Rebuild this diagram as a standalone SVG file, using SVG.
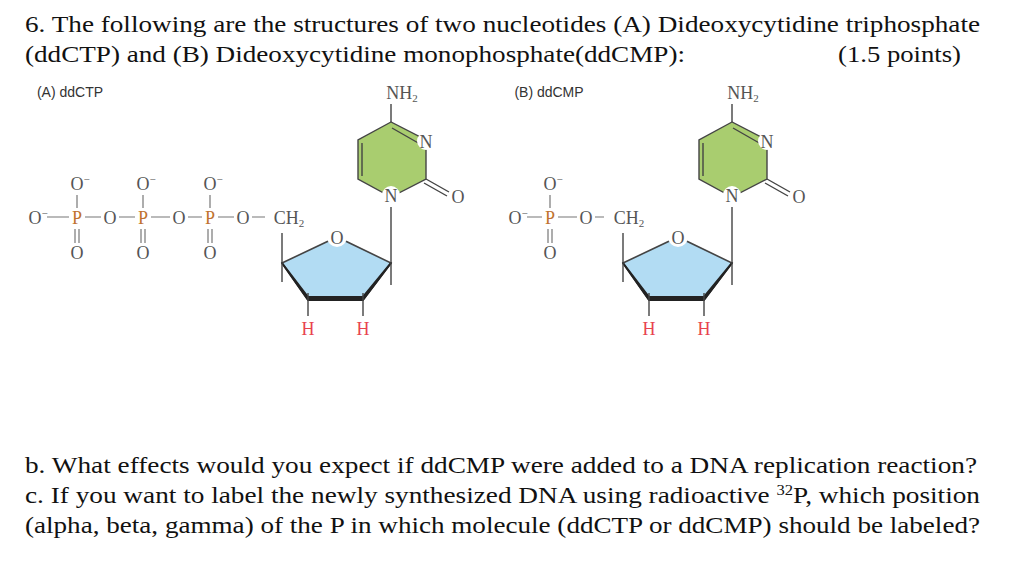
<svg xmlns="http://www.w3.org/2000/svg" width="1018" height="569" viewBox="0 0 1018 569">
<style>
.p{fill:#c0722f}
.h{fill:#e8434f}
.b{stroke:#444;stroke-width:1.4;fill:none}
.pb{stroke:#777;stroke-width:1.2;fill:none}
</style>
<rect width="1018" height="569" fill="#fff"/>
<g id="title" font-family="Liberation Serif, serif" font-size="23" fill="#111">
<text x="25" y="32" textLength="955" lengthAdjust="spacingAndGlyphs">6. The following are the structures of two nucleotides (A) Dideoxycytidine triphosphate</text>
<text x="25" y="62" textLength="660" lengthAdjust="spacingAndGlyphs">(ddCTP) and (B) Dideoxycytidine monophosphate(ddCMP):</text>
<text x="838" y="62" textLength="123" lengthAdjust="spacingAndGlyphs">(1.5 points)</text>
</g>
<g id="nodeA" font-family="Liberation Serif, serif" font-size="18" fill="#555" text-anchor="middle">
<text x="70" y="97" font-family="Liberation Sans, sans-serif" font-size="14" fill="#333">(A) ddCTP</text>
<g class="pb">
<path d="M47 217H69M85 217H101M119 217H135M151 217H170M188 217H202M218 217H234M252 217H265"/>
<path d="M77 195V208M75 229V243M79 229V243M143 195V208M141 229V243M145 229V243M210 195V208M208 229V243M212 229V243"/>
</g>
<text x="38" y="224">O<tspan font-size="11" dy="-7">−</tspan></text>
<text class="p" x="77" y="224">P</text>
<text x="110" y="224">O</text>
<text class="p" x="143" y="224">P</text>
<text x="179" y="224">O</text>
<text class="p" x="210" y="224">P</text>
<text x="243" y="224">O</text>
<text x="289" y="224">CH<tspan font-size="11" dy="3">2</tspan></text>
<text x="80" y="190">O<tspan font-size="11" dy="-7">−</tspan></text>
<text x="146" y="190">O<tspan font-size="11" dy="-7">−</tspan></text>
<text x="213" y="190">O<tspan font-size="11" dy="-7">−</tspan></text>
<text x="77" y="259">O</text>
<text x="143" y="259">O</text>
<text x="210" y="259">O</text>
<g id="nucA">
<polygon points="391,122 358,140 358,179 391,197 426,179 426,140" fill="#a9cd6f" stroke="#444" stroke-width="1.4"/>
<polygon points="282,263 337,237 391,263 363,300 308,300" fill="#b2dcf3" stroke="#444" stroke-width="1.6"/>
<path d="M282 263L308 300L363 300L391 263L363 297L308 297Z" fill="#222" stroke="#222" stroke-width="2" stroke-linejoin="round"/>
<path class="b" d="M362 143V176M392 128L420 144M426 179L449 192M424 183L447 196M391 122V104M391 207V285M282 233V282M308 293V316M363 293V316"/>
<circle cx="337" cy="237" r="10" fill="#fff"/>
<circle cx="426" cy="141" r="9" fill="#fff"/>
<circle cx="391" cy="195" r="9" fill="#fff"/>
<text x="337" y="244">O</text>
<text x="426" y="148">N</text>
<text x="391" y="202">N</text>
<text x="458" y="203">O</text>
<text x="402" y="99">NH<tspan font-size="11" dy="3">2</tspan></text>
<text class="h" x="308" y="335">H</text>
<text class="h" x="363" y="335">H</text>
</g>
</g>
<g id="nodeB" font-family="Liberation Serif, serif" font-size="18" fill="#555" text-anchor="middle">
<text x="549" y="97" font-family="Liberation Sans, sans-serif" font-size="14" fill="#333">(B) ddCMP</text>
<g class="pb">
<path d="M527 217H542M558 217H577M595 217H604M550 195V208M548 229V243M552 229V243"/>
</g>
<text x="518" y="224">O<tspan font-size="11" dy="-7">−</tspan></text>
<text class="p" x="550" y="224">P</text>
<text x="586" y="224">O</text>
<text x="629" y="224">CH<tspan font-size="11" dy="3">2</tspan></text>
<text x="553" y="190">O<tspan font-size="11" dy="-7">−</tspan></text>
<text x="550" y="259">O</text>
<g transform="translate(341,0)">
<polygon points="391,122 358,140 358,179 391,197 426,179 426,140" fill="#a9cd6f" stroke="#444" stroke-width="1.4"/>
<polygon points="282,263 337,237 391,263 363,300 308,300" fill="#b2dcf3" stroke="#444" stroke-width="1.6"/>
<path d="M282 263L308 300L363 300L391 263L363 297L308 297Z" fill="#222" stroke="#222" stroke-width="2" stroke-linejoin="round"/>
<path class="b" d="M362 143V176M392 128L420 144M426 179L449 192M424 183L447 196M391 122V104M391 207V285M282 233V282M308 293V316M363 293V316"/>
<circle cx="337" cy="237" r="10" fill="#fff"/>
<circle cx="426" cy="141" r="9" fill="#fff"/>
<circle cx="391" cy="195" r="9" fill="#fff"/>
<text x="337" y="244">O</text>
<text x="426" y="148">N</text>
<text x="391" y="202">N</text>
<text x="458" y="203">O</text>
<text x="402" y="99">NH<tspan font-size="11" dy="3">2</tspan></text>
<text class="h" x="308" y="335">H</text>
<text class="h" x="363" y="335">H</text>
</g>
</g>
<g id="connectors"/>
<g id="questions" font-family="Liberation Serif, serif" font-size="23" fill="#111">
<text x="25" y="473" textLength="952" lengthAdjust="spacingAndGlyphs">b. What effects would you expect if ddCMP were added to a DNA replication reaction?</text>
<text x="25" y="503" textLength="955" lengthAdjust="spacingAndGlyphs">c. If you want to label the newly synthesized DNA using radioactive <tspan font-size="14" dy="-8">32</tspan><tspan dy="8">P, which position</tspan></text>
<text x="25" y="533" textLength="955" lengthAdjust="spacingAndGlyphs">(alpha, beta, gamma) of the P in which molecule (ddCTP or ddCMP) should be labeled?</text>
</g>
</svg>
